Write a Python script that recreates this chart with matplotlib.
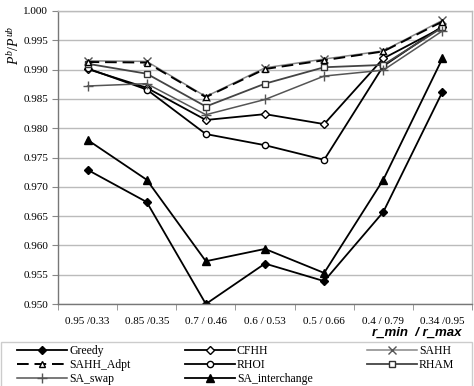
import numpy as np
import matplotlib
matplotlib.use("Agg")
import matplotlib.pyplot as plt
from matplotlib.patches import Rectangle

# data
categories = ["0.95 /0.33", "0.85 /0.35", "0.7 / 0.46", "0.6 / 0.53",
              "0.5 / 0.66", "0.4 / 0.79", "0.34 /0.95"]
greedy = [0.9729, 0.9674, 0.9500, 0.9569, 0.9539, 0.9657, 0.9862]
sa_interchange = [0.9780, 0.9712, 0.9573, 0.9594, 0.9553, 0.9712, 0.9919]
cfhh = [0.9901, 0.9869, 0.9814, 0.9824, 0.9807, 0.9919, 0.9972]
rhoi = [0.9902, 0.9866, 0.9790, 0.9771, 0.9746, 0.9906, 0.9974]
rham = [0.9910, 0.9893, 0.9837, 0.9876, 0.9904, 0.9908, 0.9972]
sa_swap = [0.9872, 0.9876, 0.9823, 0.9849, 0.9889, 0.9899, 0.9966]
sahh = [0.9915, 0.9914, 0.9854, 0.9903, 0.9918, 0.9932, 0.9984]
sahh_adpt = [0.9913, 0.9912, 0.9853, 0.9901, 0.9916, 0.9931, 0.9982]

plt.rcParams['font.family'] = ['Liberation Serif', 'DejaVu Serif']
plt.rcParams['mathtext.fontset'] = 'custom'
plt.rcParams['mathtext.it'] = 'Liberation Serif:italic'
plt.rcParams['mathtext.rm'] = 'Liberation Serif'

W, H = 474, 386
fig = plt.figure(figsize=(W / 100, H / 100), dpi=100)
ax = fig.add_axes([58 / W, (H - 304) / H, (472 - 58) / W, (304 - 11) / H])

x = np.arange(len(categories))

lg, = ax.plot(x, greedy, color='black', lw=1.3, marker='D', ms=4.5, mfc='black', mec='black')
li, = ax.plot(x, sa_interchange, color='black', lw=1.3, marker='^', ms=6, mfc='black', mec='black')
lc, = ax.plot(x, cfhh, color='black', lw=1.3, marker='D', ms=4.5, mfc='white', mec='black')
lr, = ax.plot(x, rhoi, color='black', lw=1.3, marker='o', ms=4.5, mfc='white', mec='black')
lm, = ax.plot(x, rham, color='#444444', lw=1.3, marker='s', ms=5, mfc='white', mec='#333333')
lw_, = ax.plot(x, sa_swap, color='#555555', lw=1.1, marker='+', ms=7, mec='#555555')
ls, = ax.plot(x, sahh, color='#888888', lw=1.1, marker='x', ms=6, mec='#555555')
la, = ax.plot(x, sahh_adpt, color='black', lw=1.4, ls=(0, (6, 3)), marker='^', ms=5,
              mfc='white', mec='black')

ax.set_xlim(-0.5, len(categories) - 0.5)
ax.set_ylim(0.950, 1.000)
yt = np.arange(0.950, 1.0001, 0.005)
ax.set_yticks(yt)
ax.set_yticklabels(["%.3f" % v for v in yt])
ax.set_xticks(x)
ax.set_xticklabels(categories)
ax.set_xticks(np.arange(-0.5, len(categories), 1.0), minor=True)
ax.tick_params(axis='x', which='major', length=0, labelsize=8, pad=9)
ax.tick_params(axis='x', which='minor', length=4, color='#888888', direction='out')
ax.tick_params(axis='y', length=4, color='#888888', labelsize=8, pad=3)

ax.grid(axis='y', color='#bbbbbb', lw=1.0)
ax.set_axisbelow(True)
ax.spines['left'].set_color('#777777')
ax.spines['bottom'].set_color('#777777')
ax.spines['right'].set_color('#bbbbbb')
ax.spines['top'].set_color('#bbbbbb')
for s in ax.spines.values():
    s.set_linewidth(1.0)

fig.text(14 / W, 1 - 45 / H, r"$P^b/P^{ub}$", rotation=90, ha='center', va='center',
         fontsize=10)

fig.text(462 / W, 1 - 333 / H, "r_min  / r_max", ha='right', va='center',
         fontsize=9.5, fontweight='bold', fontstyle='italic', fontfamily='Liberation Sans')

# frame around the legend
fig.patches.append(Rectangle((1 / W, -0.05), (W - 3) / W, 1 - 342 / H + 0.05,
                             transform=fig.transFigure, fill=False,
                             edgecolor='#cccccc', lw=1.0))

handles = [lg, la, lw_, lc, lr, li, ls, lm]
labels = ["Greedy", "SAHH_Adpt", "SA_swap", "CFHH", "RHOI", "SA_interchange", "SAHH", "RHAM"]
fig.legend(handles, labels, ncol=3, loc='upper left', bbox_to_anchor=(15 / W, 1 - 343 / H),
           frameon=False, fontsize=8.5, handlelength=4.2, handletextpad=0.2,
           columnspacing=4.6, labelspacing=0.15, borderaxespad=0, borderpad=0.2)

fig.savefig("out.png", dpi=100)
